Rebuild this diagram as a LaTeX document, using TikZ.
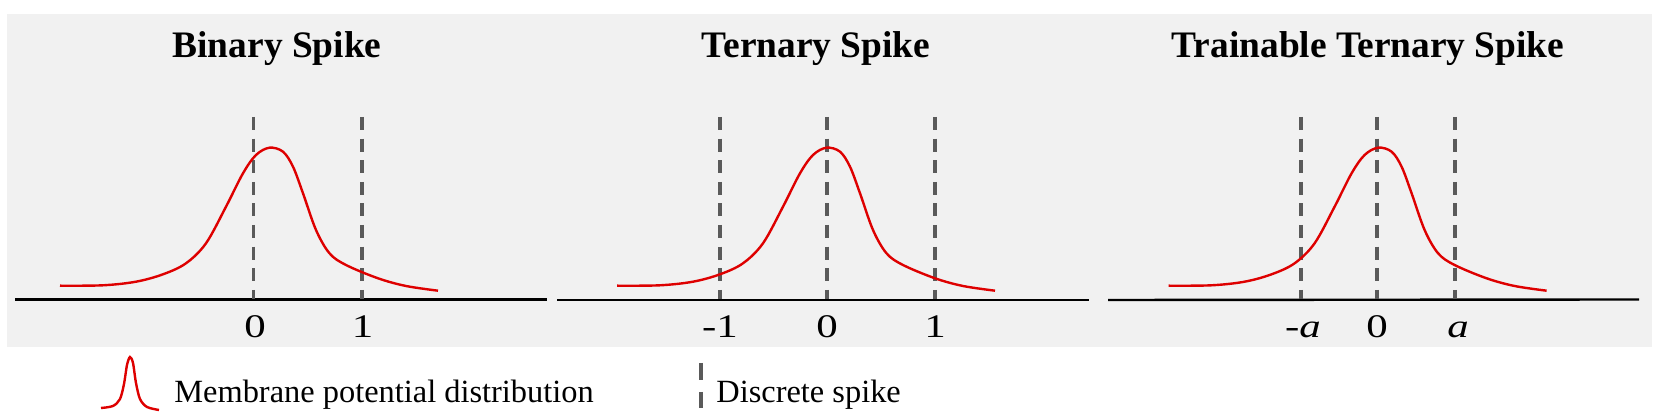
\documentclass[tikz,border=0pt]{standalone}
\usepackage{fontspec}
\setmainfont{Liberation Serif}
\definecolor{panelgray}{RGB}{241,241,241}
\definecolor{spikegray}{RGB}{90,90,90}
\definecolor{curvered}{RGB}{222,0,0}
\tikzset{
  axisline/.style={line width=1.2pt, black},
  spikeline/.style={line width=1.8pt, spikegray, dash pattern=on 6.5pt off 4.3pt},
  distcurve/.style={line width=1.2pt, curvered},
  titletext/.style={font=\fontsize{18.7}{22}\selectfont\bfseries, anchor=base, inner sep=0pt},
  ticktext/.style={font=\fontsize{16.5}{19}\selectfont, anchor=base, inner sep=0pt},
  legendtext/.style={font=\fontsize{16.2}{19}\selectfont, anchor=base west, inner sep=0pt},
}
\newcommand{\wide}[1]{\scalebox{1.3}[1]{#1}}
\newcommand{\distcurveat}[1]{%
  \draw[distcurve] plot[smooth, tension=0.55] coordinates {
    ({#1-211},285.7) ({#1-168},285.3) ({#1-135},281.7) ({#1-108},274.3)
    ({#1-85},263.3) ({#1-65},243.3) ({#1-45},206.7) ({#1-28},173.3)
    ({#1-15},155) ({#1-1.5},147.7) ({#1+12},151.7) ({#1+22},166.7)
    ({#1+32},193.3) ({#1+45},230) ({#1+58.5},253.3) ({#1+75},265)
    ({#1+107},278.3) ({#1+135},286) ({#1+167},290.7)};}
\begin{document}
\begin{tikzpicture}[x=0.5pt, y=-0.5pt]
  \useasboundingbox[fill=white] (0,0) rectangle (1654,415);
  \fill[panelgray] (7,14) rectangle (1652,347);

  % axes
  \draw[axisline] (15,299.5) -- (546.5,299.5);
  \draw[axisline] (557,300) -- (1089,300);
  \draw[axisline] (1108,300) -- (1639,299.5);

  % titles
  \node[titletext] (t1) at (277,58) {Binary Spike};
  \node[titletext] (t2) at (816,58) {Ternary Spike};
  \node[titletext] (t3) at (1368,58) {Trainable Ternary Spike};

  % discrete spikes
  \foreach \xx in {253.6,362, 720,826.7,935, 1301,1377,1455}{
    \draw[spikeline] (\xx,117) -- (\xx,299);
  }

  % distributions
  \distcurveat{271}
  \distcurveat{828}
  \distcurveat{1379.6}

  % tick labels
  \node[ticktext] (l10) at (255,338) {\wide{0}};
  \node[ticktext] (l11) at (362.5,338) {\wide{1}};
  \node[ticktext] (l2m) at (720,338) {\wide{-1}};
  \node[ticktext] (l20) at (827,338) {\wide{0}};
  \node[ticktext] (l21) at (935,338) {\wide{1}};
  \node[ticktext] (l3m) at (1303,338) {\wide{-\textit{a}}};
  \node[ticktext] (l30) at (1377,338) {\wide{0}};
  \node[ticktext] (l3a) at (1458,338) {\wide{\textit{a}}};

  % legend
  \draw[distcurve] plot[smooth, tension=0.5] coordinates {
    (101,408) (113,406) (120,399) (124,384) (127,365) (130,357)
    (133,363) (136,383) (140,399) (147,407) (159,410)};
  \node[legendtext] (leg1) at (174,403) {Membrane potential distribution};
  \draw[line width=1.6pt, spikegray] (701,363) -- (701,380);
  \draw[line width=1.6pt, spikegray] (701,392) -- (701,408);
  \node[legendtext] (leg2) at (716,403) {Discrete spike};
\end{tikzpicture}
\end{document}
